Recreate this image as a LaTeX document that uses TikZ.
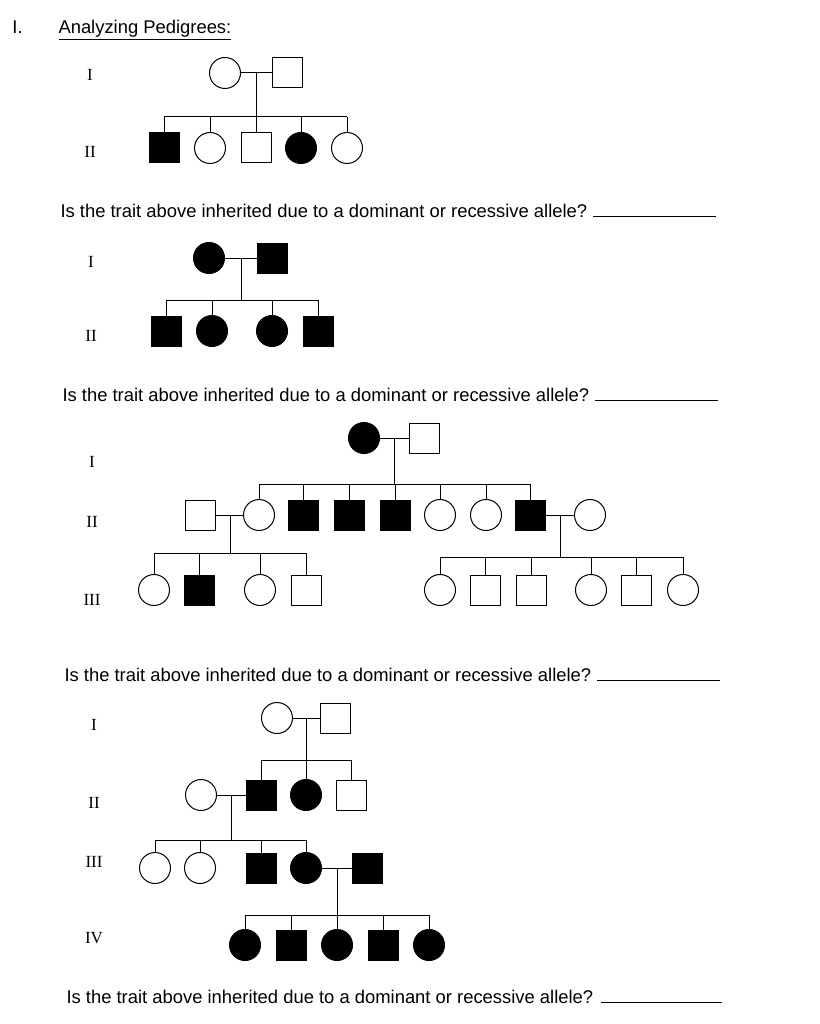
\documentclass[tikz,border=0pt]{standalone}
\usepackage{fontspec}
\setmainfont{Liberation Serif}
\newfontfamily\qfont{Liberation Sans}
\usetikzlibrary{calc}
\begin{document}
\begin{tikzpicture}[x=1pt,y=-1pt,line width=1pt,
  fem/.style={circle,draw,minimum size=31pt,inner sep=0pt},
  mal/.style={rectangle,draw,minimum size=30pt,inner sep=0pt},
  aff/.style={fill=black},
  gen/.style={font=\fontsize{17}{17}\selectfont},
  q/.style={font=\qfont\fontsize{18.4}{18}\selectfont,anchor=base west,inner sep=0pt}]
\useasboundingbox (0,0) rectangle (819,1024);
\node[q] (hI) at (12,34) {I.};
\node[q] (hT) at (58,34) {\underline{Analyzing Pedigrees:}};
% ---- Pedigree 1
\node[gen] (g1a) at (90,75) {I};
\node[gen] (g1b) at (90,152) {II};
\node[fem] (p1f) at (225,73) {};
\node[mal] (p1m) at (287,73) {};
\draw (p1f) -- (p1m);
\coordinate (p1c) at (256,73);
\coordinate (p1s) at (256,117);
\draw (p1c) -- (p1s);
\node[mal,aff] (p1k1) at (164,148) {};
\node[fem] (p1k2) at (210,148) {};
\node[mal] (p1k3) at (256,148) {};
\node[fem,aff] (p1k4) at (301,148) {};
\node[fem] (p1k5) at (347,148) {};
\draw (p1k1.north|-p1s) -- (p1k5.north|-p1s);
\foreach \k in {p1k1,p1k2,p1k3,p1k4,p1k5} \draw (\k.north) -- (\k.north|-p1s);
\node[q] (q1) at (60,218) {Is the trait above inherited due to a dominant or recessive allele?};
\coordinate (l1a) at (593,216); \coordinate (l1b) at (716,216);
\draw[line width=0.8pt] (l1a) -- (l1b);
% ---- Pedigree 2
\node[gen] (g2a) at (91,262) {I};
\node[gen] (g2b) at (91,336) {II};
\node[fem,aff] (p2f) at (209,258) {};
\node[mal,aff] (p2m) at (272,258) {};
\draw (p2f) -- (p2m);
\coordinate (p2c) at (241,258);
\coordinate (p2s) at (241,300);
\draw (p2c) -- (p2s);
\node[mal,aff] (p2k1) at (166,331) {};
\node[fem,aff] (p2k2) at (212,331) {};
\node[fem,aff] (p2k3) at (272,331) {};
\node[mal,aff] (p2k4) at (318,331) {};
\draw (p2k1.north|-p2s) -- (p2k4.north|-p2s);
\foreach \k in {p2k1,p2k2,p2k3,p2k4} \draw (\k.north) -- (\k.north|-p2s);
\node[q] (q2) at (62,401) {Is the trait above inherited due to a dominant or recessive allele?};
\coordinate (l2a) at (595,400); \coordinate (l2b) at (718,400);
\draw[line width=0.8pt] (l2a) -- (l2b);
% ---- Pedigree 3
\node[gen] (g3a) at (92,462) {I};
\node[gen] (g3b) at (92,522) {II};
\node[gen] (g3c) at (92,600) {III};
\node[fem,aff] (p3f) at (364,438) {};
\node[mal] (p3m) at (424,438) {};
\draw (p3f) -- (p3m);
\coordinate (p3c) at (394,438);
\coordinate (p3s) at (394,484);
\draw (p3c) -- (p3s);
\node[mal] (p3sp1) at (200,515) {};
\node[fem] (p3k1) at (259,515) {};
\node[mal,aff] (p3k2) at (303,515) {};
\node[mal,aff] (p3k3) at (349,515) {};
\node[mal,aff] (p3k4) at (395,515) {};
\node[fem] (p3k5) at (440,515) {};
\node[fem] (p3k6) at (486,515) {};
\node[mal,aff] (p3k7) at (530,515) {};
\node[fem] (p3sp2) at (590,515) {};
\draw (p3k1.north|-p3s) -- (p3k7.north|-p3s);
\foreach \k in {p3k1,p3k2,p3k3,p3k4,p3k5,p3k6,p3k7} \draw (\k.north) -- (\k.north|-p3s);
\draw (p3sp1) -- (p3k1);
\draw (p3k7) -- (p3sp2);
\coordinate (p3ca) at (230,515); \coordinate (p3sa) at (230,553);
\coordinate (p3cb) at (560,515); \coordinate (p3sb) at (560,557);
\draw (p3ca) -- (p3sa);
\draw (p3cb) -- (p3sb);
\node[fem] (p3a1) at (154,590) {};
\node[mal,aff] (p3a2) at (199,590) {};
\node[fem] (p3a3) at (260,590) {};
\node[mal] (p3a4) at (306,590) {};
\draw (p3a1.north|-p3sa) -- (p3a4.north|-p3sa);
\foreach \k in {p3a1,p3a2,p3a3,p3a4} \draw (\k.north) -- (\k.north|-p3sa);
\node[fem] (p3b1) at (440,590) {};
\node[mal] (p3b2) at (485,590) {};
\node[mal] (p3b3) at (531,590) {};
\node[fem] (p3b4) at (591,590) {};
\node[mal] (p3b5) at (636,590) {};
\node[fem] (p3b6) at (683,590) {};
\draw (p3b1.north|-p3sb) -- (p3b6.north|-p3sb);
\foreach \k in {p3b1,p3b2,p3b3,p3b4,p3b5,p3b6} \draw (\k.north) -- (\k.north|-p3sb);
\node[q] (q3) at (64,681) {Is the trait above inherited due to a dominant or recessive allele?};
\coordinate (l3a) at (597,680); \coordinate (l3b) at (720,680);
\draw[line width=0.8pt] (l3a) -- (l3b);
% ---- Pedigree 4
\node[gen] (g4a) at (94,725) {I};
\node[gen] (g4b) at (94,803) {II};
\node[gen] (g4c) at (94,862) {III};
\node[gen] (g4d) at (94,938) {IV};
\node[fem] (p4f) at (277,718) {};
\node[mal] (p4m) at (335,718) {};
\draw (p4f) -- (p4m);
\coordinate (p4c) at (306,718);
\coordinate (p4s) at (306,760);
\draw (p4c) -- (p4s);
\node[fem] (p4sp) at (201,795) {};
\node[mal,aff] (p4k1) at (261,795) {};
\node[fem,aff] (p4k2) at (306,795) {};
\node[mal] (p4k3) at (351,795) {};
\draw (p4k1.north|-p4s) -- (p4k3.north|-p4s);
\foreach \k in {p4k1,p4k2,p4k3} \draw (\k.north) -- (\k.north|-p4s);
\draw (p4sp) -- (p4k1);
\coordinate (p4ca) at (231,795); \coordinate (p4sa) at (231,840);
\draw (p4ca) -- (p4sa);
\node[fem] (p4a1) at (155,868) {};
\node[fem] (p4a2) at (200,868) {};
\node[mal,aff] (p4a3) at (261,868) {};
\node[fem,aff] (p4a4) at (306,868) {};
\node[mal,aff] (p4sp2) at (367,868) {};
\draw (p4a1.north|-p4sa) -- (p4a4.north|-p4sa);
\foreach \k in {p4a1,p4a2,p4a3,p4a4} \draw (\k.north) -- (\k.north|-p4sa);
\draw (p4a4) -- (p4sp2);
\coordinate (p4cb) at (337,868); \coordinate (p4sb) at (337,915);
\draw (p4cb) -- (p4sb);
\node[fem,aff] (p4b1) at (245,945) {};
\node[mal,aff] (p4b2) at (291,945) {};
\node[fem,aff] (p4b3) at (337,945) {};
\node[mal,aff] (p4b4) at (383,945) {};
\node[fem,aff] (p4b5) at (429,945) {};
\draw (p4b1.north|-p4sb) -- (p4b5.north|-p4sb);
\foreach \k in {p4b1,p4b2,p4b3,p4b4,p4b5} \draw (\k.north) -- (\k.north|-p4sb);
\node[q] (q4) at (66,1003) {Is the trait above inherited due to a dominant or recessive allele?};
\coordinate (l4a) at (601,1002); \coordinate (l4b) at (722,1002);
\draw[line width=0.8pt] (l4a) -- (l4b);
\end{tikzpicture}
\end{document}
